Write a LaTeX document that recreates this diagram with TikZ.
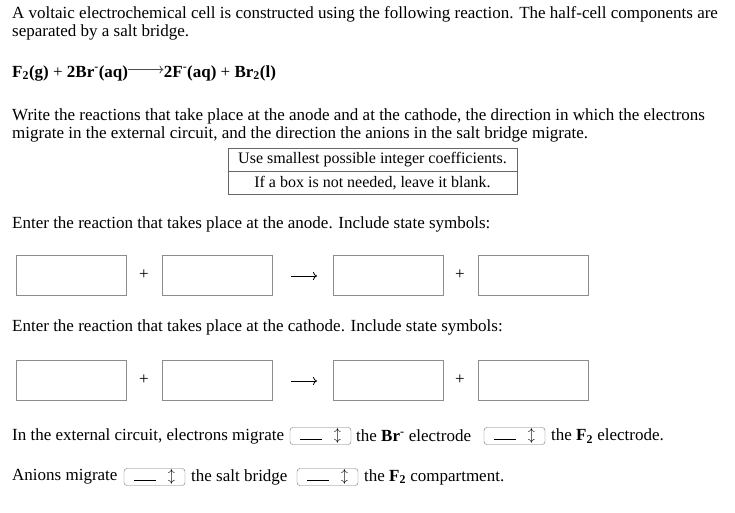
\documentclass[tikz,border=0pt]{standalone}
\usepackage{fontspec}
\setmainfont{Liberation Serif}
\usetikzlibrary{arrows.meta}
\begin{document}
\begin{tikzpicture}[x=1pt,y=-1pt,
  txt/.style={anchor=west,inner sep=0pt,font=\fontsize{17}{20}\selectfont},
  ansbox/.style={draw=black!45,minimum width=110pt,minimum height=40pt,inner sep=0pt},
  sel/.style={draw=black!55,rounded corners=3pt,minimum width=61pt,minimum height=17pt,inner sep=0pt,font=\fontsize{14}{16}\selectfont},
  cell/.style={draw=black!60,minimum width=289pt,minimum height=23pt,inner sep=0pt,font=\fontsize{16}{18}\selectfont},
  rarr/.style={-{To[length=4pt,width=8pt]},line width=0.8pt}]
\useasboundingbox (0,0) rectangle (735,513);
\node[txt] (l1) at (12,14) {A voltaic electrochemical cell is constructed using the following reaction. The half-cell components are};
\node[txt] (l2) at (12,32) {separated by a salt bridge.};
\node[txt] (eq) at (12,73) {\textbf{F\textsubscript{2}(g)} + \textbf{2Br\textsuperscript{-}(aq)}\raisebox{0.45ex}{\tikz[x=1pt,y=1pt]\draw[-{To[length=4pt,width=8pt]},line width=0.8pt,black!70] (0,0)--(35,0);}\textbf{2F\textsuperscript{-}(aq)} + \textbf{Br\textsubscript{2}(l)}};
\node[txt] (l3) at (12,116) {Write the reactions that take place at the anode and at the cathode, the direction in which the electrons};
\node[txt] (l4) at (12,134) {migrate in the external circuit, and the direction the anions in the salt bridge migrate.};
\node[cell] (c1) at (372.5,159.5) {Use smallest possible integer coefficients.};
\node[cell,anchor=north] (c2) at (c1.south) {If a box is not needed, leave it blank.};
\node[txt] (l5) at (12,224) {Enter the reaction that takes place at the anode. Include state symbols:};
\node[ansbox] (a1) at (71,275) {};
\node[ansbox] (a2) at (217,275) {};
\node[ansbox] (a3) at (388,275) {};
\node[ansbox] (a4) at (533,275) {};
\node[txt,anchor=center] (p1) at (144,275) {+};
\node[txt,anchor=center] (p2) at (460,275) {+};
\coordinate (r1) at (291,276); \coordinate (r2) at (317,276);
\draw[rarr] (r1)--(r2);
\node[txt] (l6) at (12,327) {Enter the reaction that takes place at the cathode. Include state symbols:};
\node[ansbox] (b1) at (71,380) {};
\node[ansbox] (b2) at (217,380) {};
\node[ansbox] (b3) at (388,380) {};
\node[ansbox] (b4) at (533,380) {};
\node[txt,anchor=center] (p3) at (144,380) {+};
\node[txt,anchor=center] (p4) at (460,380) {+};
\coordinate (s1) at (291,381); \coordinate (s2) at (317,381);
\draw[rarr] (s1)--(s2);
\node[txt] (l7) at (12,436) {In the external circuit, electrons migrate};
\node[sel] (d1) at (320.5,436) {\rule[-1pt]{22pt}{0.5pt}\hspace{12pt}\raisebox{-1pt}{$\updownarrow$}};
\node[txt] (l8) at (356,436) {the \textbf{Br\textsuperscript{-}} electrode};
\node[sel] (d2) at (514.5,436) {\rule[-1pt]{22pt}{0.5pt}\hspace{12pt}\raisebox{-1pt}{$\updownarrow$}};
\node[txt] (l9) at (551,436) {the \textbf{F\textsubscript{2}} electrode.};
\node[txt] (l10) at (12,477) {Anions migrate};
\node[sel] (d3) at (154.5,477) {\rule[-1pt]{22pt}{0.5pt}\hspace{12pt}\raisebox{-1pt}{$\updownarrow$}};
\node[txt] (l11) at (191,477) {the salt bridge};
\node[sel] (d4) at (327.5,477) {\rule[-1pt]{22pt}{0.5pt}\hspace{12pt}\raisebox{-1pt}{$\updownarrow$}};
\node[txt] (l12) at (364,477) {the \textbf{F\textsubscript{2}} compartment.};
\end{tikzpicture}
\end{document}
